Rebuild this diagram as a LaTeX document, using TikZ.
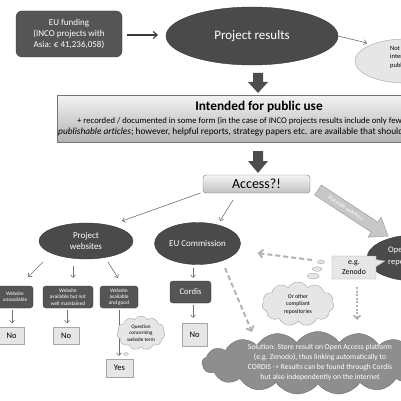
\documentclass[tikz,border=0pt]{standalone}
\usepackage{fontspec}
\setmainfont{Carlito}
\usetikzlibrary{shapes.geometric,shapes.symbols,shapes.callouts,arrows.meta,calc,shadings}
\definecolor{dkfill}{HTML}{555555}
\definecolor{dkdraw}{HTML}{383838}
\definecolor{dkell}{HTML}{4A4A4A}
\definecolor{ltfill}{HTML}{E6E6E6}
\definecolor{ltdraw}{HTML}{A6A6A6}
\definecolor{arr}{HTML}{707070}
\definecolor{dash}{HTML}{B3B3B3}
\definecolor{solfill}{HTML}{8E8E8E}
\definecolor{soldraw}{HTML}{6E6E6E}
\definecolor{blk}{HTML}{4D4D4D}
\begin{document}
\begin{tikzpicture}[x=1pt,y=-1pt,
  darkbox/.style={draw=dkdraw,fill=dkfill,text=white,rounded corners=3pt,inner sep=0pt,align=center},
  darkell/.style={ellipse,draw=dkdraw,fill=dkell,text=white,inner sep=0pt,align=center},
  lightbox/.style={draw=ltdraw,fill=ltfill,inner sep=0pt,align=center,font=\fontsize{8.5}{9}\selectfont},
  thinarrow/.style={draw=arr,line width=0.6pt,-{Straight Barb[length=2.8pt,width=5pt]}},
  dasharrow/.style={draw=dash,line width=2pt,dash pattern=on 5pt off 3pt,-{Straight Barb[length=4pt,width=8pt]}},
  finedash/.style={draw=dash,line width=1.6pt,dash pattern=on 2pt off 1.6pt,-{Straight Barb[length=3.5pt,width=7pt]}},
  tiny/.style={font=\fontsize{5.3}{6.2}\selectfont}]
\useasboundingbox (0,0) rectangle (401,401);
\clip (0,0) rectangle (401,401);
\fill[white] (0,0) rectangle (401,401);

% top row
\node[darkbox,rounded corners=6pt,minimum width=106pt,minimum height=46pt,font=\fontsize{9}{10.6}\selectfont] (fund) at (69,34) {EU funding\\(INCO projects with\\Asia: € 41,236,058)};
\node[darkell,minimum width=172pt,minimum height=58pt,font=\fontsize{13}{15}\selectfont] (res) at (252,36) {Project results};
\node[ellipse,draw=ltdraw,fill=ltfill,minimum width=100pt,minimum height=44pt] (notpub) at (405,61) {};
\node[anchor=west,align=left,inner sep=0pt,font=\fontsize{6.5}{8.5}\selectfont] (notpubtext) at (390,57) {Not\\intended for\\public use};

\draw[draw=dkdraw,line width=1.1pt,-{Straight Barb[length=4pt,width=7pt]}] ($(fund)+(58,1)$) -- ($(res)+(-94,-1)$);
\draw[thinarrow] ($(res)+(86,0)$) -- ($(notpub)+(-38,-18)$);

% block arrow 1
\fill[blk] (253,73) -- (263,73) -- (263,82) -- (268,82) -- (258,93) -- (248,82) -- (253,82) -- cycle;

% public use box
\node[draw=gray!90!black,top color=white!95!black,bottom color=white!70!black,minimum width=404pt,minimum height=47pt,anchor=north west,inner sep=0pt] (pub) at (57,95) {};
\node[font=\bfseries\fontsize{13.3}{15}\selectfont,inner sep=0pt] (pubtitle) at (259,107) {Intended for public use};
\node[anchor=base west,inner sep=0pt,font=\fontsize{8.65}{10}\selectfont] (publ1) at (77,123.5) {+ recorded / documented in some form (in the case of INCO projects results include only few};
\node[anchor=base west,inner sep=0pt,font=\fontsize{9.35}{10}\selectfont] (publ2) at (58,134.5) {\textit{publishable articles}; however, helpful reports, strategy papers etc. are available that should};

% block arrow 2
\fill[blk] (253,151) -- (263,151) -- (263,161) -- (268,161) -- (258,173) -- (248,161) -- (253,161) -- cycle;

% access
\node[draw=gray!90!black,top color=white!96!black,bottom color=white!76!black,rounded corners=3pt,minimum width=107pt,minimum height=18pt,inner sep=0pt,font=\fontsize{14}{15}\selectfont] (access) at (256.5,184) {Access?!};

% gray block arrow
\filldraw[fill=white!78!black,draw=white!62!black,line width=0.5pt] (314.7,195.0) -- (371.3,232.2) -- (368.0,237.2) -- (388,236) -- (381.2,217.2) -- (377.9,222.2) -- (321.3,185.0) -- cycle;
\node[rotate=-33.3,text=white,font=\fontsize{6}{6}\selectfont,inner sep=0pt] (possible) at (346,208) {Possible solution};

% second level
\node[darkell,minimum width=94pt,minimum height=36pt,font=\fontsize{9}{10.5}\selectfont] (pw) at (86,241) {Project\\websites};
\node[darkell,minimum width=86pt,minimum height=42pt,font=\fontsize{9}{10}\selectfont] (euc) at (197.5,243.5) {EU Commission};
\node[ellipse,draw=dkdraw,fill=dkell,minimum width=96pt,minimum height=46pt] (oa) at (415,258) {};
\node[anchor=west,align=left,inner sep=0pt,text=white,font=\fontsize{8.5}{12.5}\selectfont] (oatext) at (388,256.5) {Open access\\repositories};

\draw[thinarrow] ($(access)+(-56,9)$) -- ($(pw)+(36,-20)$);
\draw[thinarrow] ($(access)+(-23.5,16)$) -- ($(euc)+(22.5,-22.5)$);

\node[rectangle callout,draw=ltdraw,fill=ltfill,minimum width=44pt,minimum height=23pt,inner sep=0pt,align=center,font=\fontsize{7.8}{10}\selectfont,callout absolute pointer={(385,261)}] (zen) at (354,267.5) {e.g.\\Zenodo};

% website boxes
\node[darkbox,tiny,minimum width=36pt,minimum height=22pt] (w1) at (15,297) {Website\\unavailable};
\node[darkbox,tiny,minimum width=50pt,minimum height=22pt] (w2) at (68,297) {Website\\available but not\\well maintained};
\node[darkbox,tiny,minimum width=38pt,minimum height=22pt] (w3) at (119,297) {Website\\available\\and good};
\node[darkbox,minimum width=41pt,minimum height=22pt,font=\fontsize{8.6}{9}\selectfont] (cordis) at (190.5,292) {Cordis};

\draw[thinarrow] ($(pw)+(-43,21)$) -- ($(w1)+(13,-20)$);
\draw[thinarrow] ($(pw)+(-13,25)$) -- ($(w2)+(5,-19)$);
\draw[thinarrow] ($(pw)+(22,21)$) -- ($(w3)+(-1,-19)$);
\draw[thinarrow] ($(euc)+(-4.5,24.5)$) -- ($(cordis)+(2.5,-14)$);

\node[lightbox,minimum width=25pt,minimum height=17pt] (no1) at (11.5,335.5) {No};
\node[lightbox,minimum width=26pt,minimum height=17pt] (no2) at (66,335.5) {No};
\node[lightbox,minimum width=27pt,minimum height=18pt] (yes) at (119.5,368) {Yes};
\node[lightbox,minimum width=25pt,minimum height=23pt] (no3) at (194.5,334.5) {No};

\draw[thinarrow] ($(w1)+(-3,13)$) -- ($(no1)+(0.5,-12)$);
\draw[thinarrow] ($(w2)+(-1,13)$) -- ($(no2)+(1,-12)$);
\draw[thinarrow] ($(w3)+(0,13)$) -- ($(yes)+(-0.5,-12)$);
\draw[thinarrow] ($(cordis)+(2.5,13)$) -- ($(no3)+(-1.5,-16.5)$);

% clouds
\node[cloud callout,cloud puffs=11,cloud puff arc=120,aspect=1.5,draw=ltdraw,fill=ltfill,minimum width=48pt,minimum height=34pt,inner sep=0pt,align=center,font=\fontsize{5.2}{6.3}\selectfont,callout absolute pointer={(126,354)},callout pointer segments=1] (qcloud) at (141,333) {Question\\concerning\\website term};

\node[cloud,cloud puffs=17,cloud puff arc=110,aspect=3.7,draw=soldraw,fill=solfill,minimum width=232pt,minimum height=63pt,inner sep=0pt] (sol) at (318,363) {};
\node[text=white,align=center,inner sep=0pt,font=\fontsize{7.6}{9.7}\selectfont] (soltext) at (320,362.5) {Solution: Store result on Open Access platform\\(e.g. Zenodo), thus linking automatically to\\CORDIS -> Results can be found through Cordis\\but also independently on the internet};

\node[cloud callout,cloud puffs=11,cloud puff arc=120,aspect=1.6,draw=ltdraw,fill=ltfill,minimum width=72pt,minimum height=44pt,inner sep=0pt,align=center,font=\fontsize{5.8}{7.5}\selectfont,callout absolute pointer={(321,262)},callout pointer segments=3] (ocloud) at (298,304) {Or other\\compliant\\repositories};

% dashed connectors
\draw[dasharrow] ($(zen)+(-42,-7.5)$) -- ($(euc)+(60,9.5)$);
\draw[dasharrow] ($(euc)+(27.5,24.5)$) -- ($(sol)+(-66,-31)$);
\draw[finedash] ($(zen)+(3,19.5)$) -- ($(sol)+(39,-43)$);
\end{tikzpicture}
\end{document}
